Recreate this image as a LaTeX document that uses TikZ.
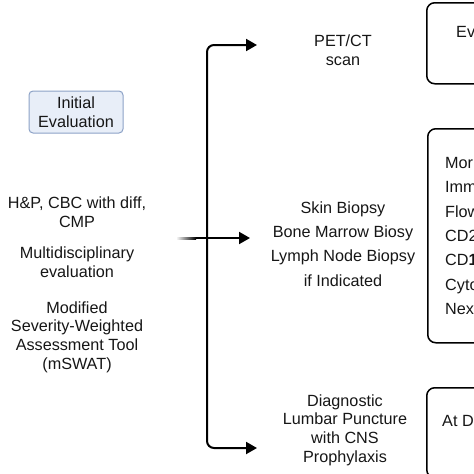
\documentclass[tikz,border=0pt]{standalone}
\usepackage{fontspec}
\setmainfont{Liberation Sans}
\usetikzlibrary{arrows.meta}
\definecolor{txt}{RGB}{22,22,22}
\definecolor{evfill}{RGB}{232,238,248}
\definecolor{evline}{RGB}{140,162,198}
\tikzset{
  lbl/.style={align=center, text=txt, inner sep=0pt, font=\fontsize{16.2}{18.6}\selectfont},
  midlbl/.style={align=center, text=txt, inner sep=0pt, font=\fontsize{16.2}{24.4}\selectfont},
  boxtxt/.style={align=left, text=txt, inner sep=0pt, anchor=west, font=\fontsize{16.2}{24.4}\selectfont},
  evalbox/.style={draw=evline, fill=evfill, line width=1pt, rounded corners=4pt, align=center, text=txt,
    minimum width=94pt, minimum height=42pt, inner sep=0pt, font=\fontsize{16.2}{19}\selectfont},
  rbox/.style={draw=black, line width=1.5pt, rounded corners=8pt, anchor=north west, inner sep=0pt},
  flow/.style={draw=black, line width=2pt, -{Triangle[length=11pt,width=12pt]}},
}
\begin{document}
\begin{tikzpicture}[x=1pt,y=-1pt]
\useasboundingbox (0,0) rectangle (474,474);
\clip (0,0) rectangle (474,474);
% left column
\node[evalbox] (init) at (76,112) {Initial\\Evaluation};
\node[lbl] (hp) at (77,212) {H\&P, CBC with diff,\\CMP};
\node[lbl] (multi) at (77,262) {Multidisciplinary\\evaluation};
\node[lbl] (mswat) at (77,337) {Modified\\Severity-Weighted\\Assessment Tool\\(mSWAT)};
% middle column
\node[lbl] (pet) at (343,50) {PET/CT\\scan};
\node[midlbl] (bio) at (343,244) {Skin Biopsy\\Bone Marrow Biosy\\Lymph Node Biopsy\\if Indicated};
\node[lbl] (lp) at (345,430) {Diagnostic\\Lumbar Puncture\\with CNS\\Prophylaxis};
% right boxes
\node[rbox, minimum width=70pt, minimum height=81pt] (ev) at (426,2) {};
\node[rbox, minimum width=70pt, minimum height=214pt] (lab) at (427,128) {};
\node[rbox, minimum width=70pt, minimum height=90pt] (atd) at (426,387) {};
\node[boxtxt] (evt) at (456,32) {Ev};
\node[boxtxt] (labt) at (445,236) {Mor\\Imm\\Flow\\CD2\\CD\textbf{1}\\Cyto\\Nex};
\node[boxtxt] (atdt) at (442,421) {At D};
% connectors
\coordinate (src) at (177,238);
\coordinate (spine) at (207,238);
\coordinate (petin) at (257,45);
\coordinate (bioin) at (250,238);
\coordinate (lpin) at (257,448);
\draw[flow, rounded corners=7pt] (spine) -- (spine |- petin) -- (petin);
\draw[flow, rounded corners=7pt] (spine) -- (spine |- lpin) -- (lpin);
\draw[flow] (src) -- (bioin);
\shade[left color=white, right color=black, draw=none] (176,237) rectangle (196,239);
\end{tikzpicture}
\end{document}
